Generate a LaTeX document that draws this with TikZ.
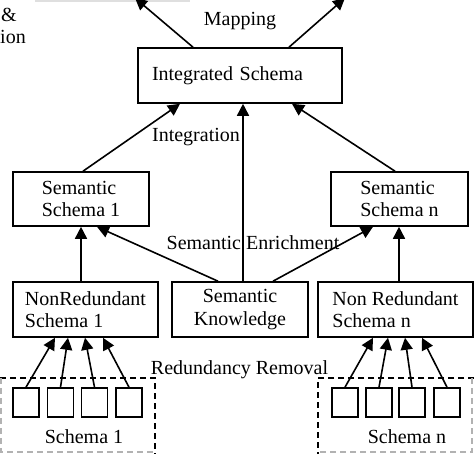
\documentclass[tikz,border=0pt]{standalone}
\usepackage{fontspec}
\setmainfont{Liberation Serif}
\usetikzlibrary{arrows.meta}
\begin{document}
\begin{tikzpicture}[x=1pt,y=-1pt,
	font=\fontsize{20}{22.5}\selectfont,
	box/.style={draw,line width=1.6pt,inner sep=0pt},
	cell/.style={box,minimum width=26pt,minimum height=29pt},
	arr/.style={-{Triangle[length=12pt,width=12pt]},line width=1.6pt},
	grp/.style={line width=1.4pt,dash pattern=on 6pt off 4pt}]
	\useasboundingbox (0,0) rectangle (474,454);

	\fill[gray!25] (35,0) rectangle (190,2.5);
	\node[anchor=west,inner sep=0pt] (amp) at (1,15) {\&};
	\node[anchor=west,inner sep=0pt] (ion) at (0,37) {ion};

	\node[box,minimum height=55pt,inner xsep=14pt,text width=176pt,align=left] (int) at (240,75.5) {Integrated Schema};
	\node[box,minimum height=54pt,minimum width=136pt,align=left] (ss1) at (81,199) {Semantic\\Schema 1};
	\node[box,minimum height=54pt,minimum width=137pt,align=left] (ssn) at (399.5,199) {Semantic\\Schema n};
	\node[box,minimum height=55pt,minimum width=145pt,align=left] (nr1) at (85.5,309.5) {NonRedundant\\Schema 1};
	\node[box,minimum height=55pt,minimum width=136pt,align=center] (sk) at (240,309.5) {Semantic\\Knowledge};
	\node[box,minimum height=55pt,minimum width=155pt,align=left] (nrn) at (395.5,309.5) {Non Redundant\\Schema n};

	\foreach \x [count=\i] in {26,60.5,94.5,129} \node[cell] (a\i) at (\x,402.5) {};
	\foreach \x [count=\i] in {345,379,412,447} \node[cell] (b\i) at (\x,402.5) {};

	\foreach \i/\d in {1/-30.5,2/-17.5,3/-0.5,4/17.5} \draw[arr] (a\i.north) -- ([xshift=\d pt]nr1.south);
	\foreach \i/\d in {1/-22.5,2/-7.5,3/9.5,4/26.5} \draw[arr] (b\i.north) -- ([xshift=\d pt]nrn.south);

	\draw[arr] (ss1.south |- nr1.north) -- (ss1.south);
	\draw[arr] ([xshift=-0.5pt]ssn.south |- nrn.north) -- ([xshift=-0.5pt]ssn.south);
	\draw[arr] ([xshift=-22pt]sk.north) -- ([xshift=16pt]ss1.south);
	\draw[arr] ([xshift=33pt]sk.north) -- ([xshift=-26.5pt]ssn.south);

	\draw[arr] ([xshift=2pt]ss1.north) -- ([xshift=-60pt]int.south);
	\draw[arr] ([xshift=3pt]sk.north) -- ([xshift=3pt]int.south);
	\draw[arr] ([xshift=-4.5pt]ssn.north) -- ([xshift=52pt]int.south);

	\coordinate (outl) at (135,-2);
	\coordinate (outr) at (345,-2);
	\draw[arr] ([xshift=-47pt]int.north) -- (outl);
	\draw[arr] ([xshift=49pt]int.north) -- (outr);

	\node (map) at (240,21) {Mapping};
	\node (integ) at (196,137) {Integration};
	\node (enr) at (253,243) {Semantic Enrichment};
	\node (red) at (239.5,370) {Redundancy Removal};
	\node (g1) at (84,437) {Schema 1};
	\node (gn) at (407,437) {Schema n};

	\draw[grp] (0,378) -- (155,378) -- (155,454);
	\draw[grp,gray!60] (1,378) -- (1,452) -- (155,452);
	\draw[grp] (474,378) -- (318,378) -- (318,454);
	\draw[grp,gray!60] (472,378) -- (472,452) -- (318,452);
\end{tikzpicture}
\end{document}
